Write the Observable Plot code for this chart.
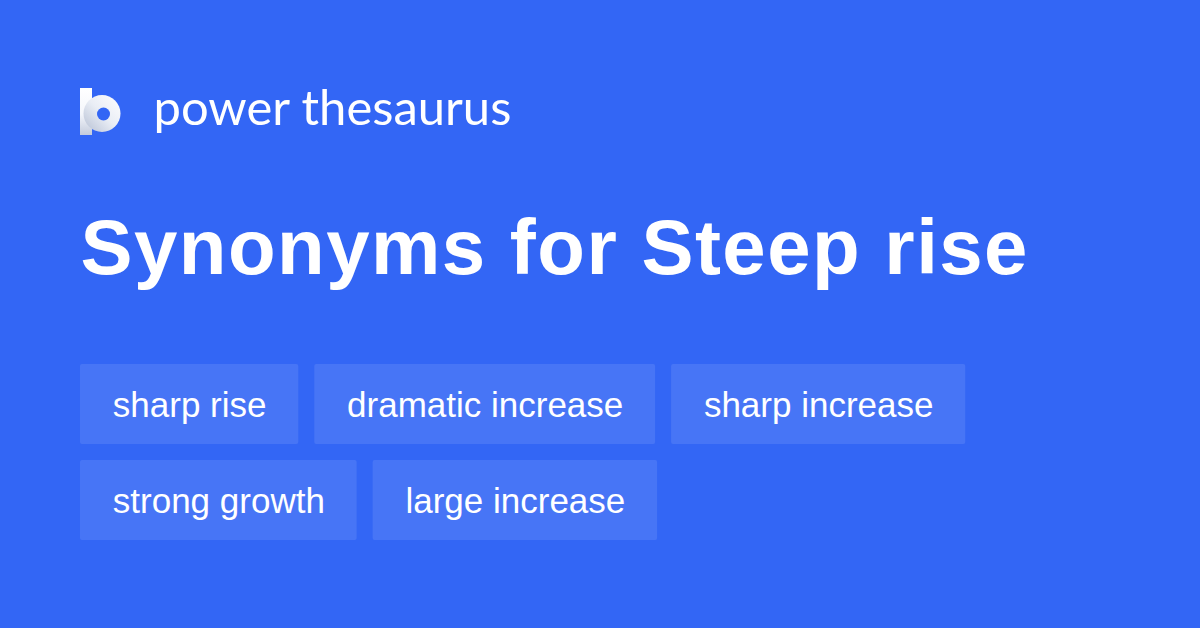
<!DOCTYPE html>
<html>
<head>
<meta charset="utf-8">
<script src="https://cdn.jsdelivr.net/npm/d3@7"></script>
<script src="https://cdn.jsdelivr.net/npm/@observablehq/plot@0.6"></script>
<style>
  html, body { margin: 0; padding: 0; background: #3366f5; overflow: hidden; }
  #chart svg { display: block; }
</style>
</head>
<body>
<div id="chart"></div>
<script>
// ---- data ----
const brand = "power thesaurus";
const headword = "Steep rise";
const titleText = "Synonyms for " + headword;
const synonyms = ["sharp rise", "dramatic increase", "sharp increase", "strong growth", "large increase"];

// ---- layout constants ----
const W = 1200, H = 628;
const bg = "#3366f5";
const left = 80, maxRight = 1120;
const tagFont = "Liberation Sans", tagSize = 35;
const tagPad = 32.3, tagGap = 16, tagH = 80, rowStep = 96, firstRowTop = 364;

const ctx = document.createElement("canvas").getContext("2d");
function measure(text, font) { ctx.font = font; return ctx.measureText(text).width; }

// flow tags into rows
const tags = [];
let cx = left, row = 0;
for (const s of synonyms) {
  const w = measure(s, `${tagSize}px "${tagFont}"`) + 2 * tagPad;
  if (cx + w > maxRight && cx > left) { row++; cx = left; }
  const y1 = firstRowTop + row * rowStep;
  tags.push({label: s, x1: cx, x2: cx + w, y1, y2: y1 + tagH, mid: cx + w / 2, base: y1 + 52});
  cx += w + tagGap;
}

// title: fit to reference width with letter spacing
const titleSize = 78, titleWidth = 947;
const tW = measure(titleText, `bold ${titleSize}px "Liberation Sans"`);
const titleLS = (titleWidth - tW) / (titleText.length - 1);

// brand: fit font size to width
const brandWidth = 359;
const bW = measure(brand, `40px Lato`);
const brandSize = 40 * brandWidth / bW;

// logo geometry
const logo = {x: 80, y: 88, stemW: 12, h: 47, r: 18.5, hole: 6.5};
const logoStem = [{x1: logo.x, x2: logo.x + logo.stemW, y1: logo.y, y2: logo.y + logo.h}];
const logoDisk = [{x: logo.x + 21.5, y: logo.y + 25}];

const chart = Plot.plot({
  width: W, height: H, margin: 0,
  x: {domain: [0, W], range: [0, W], axis: null},
  y: {domain: [0, H], range: [0, H], axis: null},
  style: {background: bg},
  marks: [
    // logo
    Plot.rect(logoStem, {x1: "x1", x2: "x2", y1: "y1", y2: "y2", fill: "url(#stemGrad)"}),
    Plot.dot(logoDisk, {x: "x", y: "y", r: logo.r, fill: "url(#diskGrad)", stroke: "none"}),
    Plot.dot(logoDisk, {x: d => d.x + 1.5, y: d => d.y + 0.5, r: logo.hole, fill: bg, stroke: "none"}),
    // brand
    Plot.text([brand], {x: () => 153, y: () => 124, text: d => d, fill: "white", fontSize: brandSize,
      fontFamily: "Lato", textAnchor: "start", lineAnchor: "bottom"}),
    // title
    Plot.text([titleText], {x: () => left, y: () => 273, text: d => d, fill: "white", fontSize: titleSize,
      fontWeight: "bold", fontFamily: "Liberation Sans", textAnchor: "start", lineAnchor: "bottom"}),
    // tags
    Plot.rect(tags, {x1: "x1", x2: "x2", y1: "y1", y2: "y2", fill: "white", fillOpacity: 0.1, rx: 2}),
    Plot.text(tags, {x: "mid", y: "base", text: "label", fill: "white", fontSize: tagSize,
      fontFamily: tagFont, textAnchor: "middle", lineAnchor: "bottom"})
  ]
});

// gradients for logo
const ns = "http://www.w3.org/2000/svg";
const defs = document.createElementNS(ns, "defs");
defs.innerHTML = `
  <linearGradient id="stemGrad" x1="0" y1="0" x2="0" y2="1">
    <stop offset="0" stop-color="#ffffff"/>
    <stop offset="0.55" stop-color="#f4f6fb"/>
    <stop offset="1" stop-color="#c3cbdc"/>
  </linearGradient>
  <linearGradient id="diskGrad" x1="1" y1="0" x2="0" y2="1">
    <stop offset="0" stop-color="#ffffff"/>
    <stop offset="0.5" stop-color="#e9edf5"/>
    <stop offset="1" stop-color="#b5bfd3"/>
  </linearGradient>`;
chart.insertBefore(defs, chart.firstChild);
// title letter spacing
chart.querySelectorAll("text").forEach(t => {
  if (t.textContent === titleText) t.setAttribute("letter-spacing", titleLS);
});
document.getElementById("chart").appendChild(chart);
</script>
</body>
</html>
